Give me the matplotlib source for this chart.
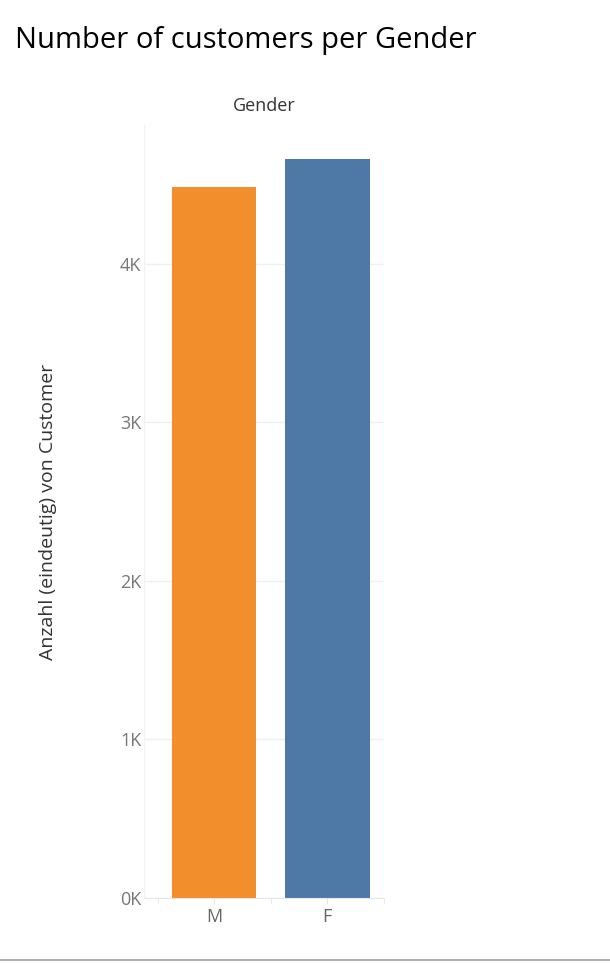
import matplotlib.pyplot as plt
from matplotlib.ticker import FuncFormatter

plt.rcParams['font.family'] = ['Open Sans', 'DejaVu Sans']

genders = ["M", "F"]
customers = [4485, 4662]
colors = ["#f28e2b", "#4e79a7"]

fig = plt.figure(figsize=(6.1, 9.64), dpi=100)
ax = fig.add_axes([0.236, 0.0685, 0.393, 0.802])

ax.bar(genders, customers, width=0.75, color=colors, zorder=2)
ax.set_xlim(-0.62, 1.5)
ax.set_ylim(0, 4877)
ax.set_yticks([0, 1000, 2000, 3000, 4000])
ax.yaxis.set_major_formatter(FuncFormatter(lambda v, p: f"{int(v/1000)}K"))
ax.grid(axis="y", color="#f0f0f0", linewidth=1, zorder=0)
ax.grid(axis="x", visible=False)

for s in ["top", "right", "left"]:
    ax.spines[s].set_visible(False)
ax.spines["bottom"].set_color("#e6e6e6")
ax.axvline(-0.62, color="#f3f3f3", linewidth=1)
ax.tick_params(axis="y", length=0, labelsize=13, labelcolor="#777777", pad=2)
ax.tick_params(axis="x", length=4, color="#e6e6e6", labelsize=13, labelcolor="#666666")
ax.set_xticks([-0.5, 0.5, 1.5], minor=True)
ax.tick_params(axis="x", which="minor", length=4, color="#e6e6e6")

ax.set_ylabel("Anzahl (eindeutig) von Customer", fontsize=14, color="#333333", labelpad=45)
ax.set_title("Gender", fontsize=13, color="#333333", pad=10)

fig.text(0.025, 0.958, "Number of customers per Gender", fontsize=21, va="center", ha="left")
fig.add_artist(plt.Line2D([0, 1], [0.004, 0.004], color="#b0b0b0", linewidth=1.5))

fig.savefig("out.png", dpi=100)
